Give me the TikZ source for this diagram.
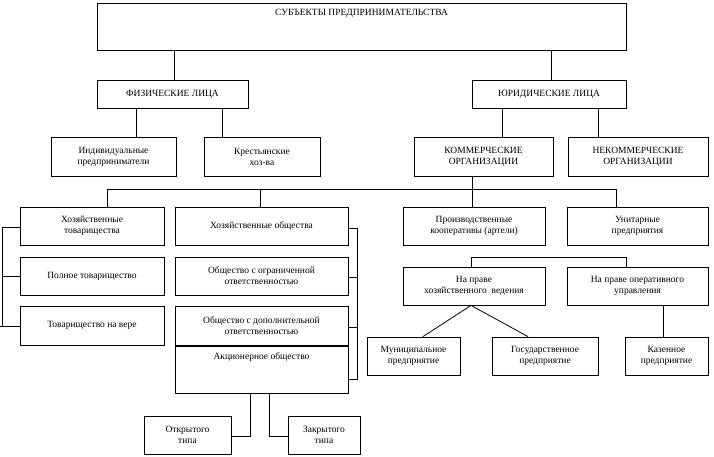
\documentclass[tikz,border=0pt]{standalone}
\usepackage{fontspec}
\setmainfont{Liberation Serif}
\begin{document}
\begin{tikzpicture}[x=1pt,y=-1pt,
  bx/.style={draw, line width=0.8pt, inner sep=1pt, align=center, font=\fontsize{9.5}{11}\selectfont},
  ln/.style={line width=0.8pt}]
\useasboundingbox (0,0) rectangle (714,457);
\newcommand\bx[6]{\node[bx, minimum width={(#4-#2)*1pt}, minimum height={(#5-#3)*1pt}] (#1) at ({(#2+#4)/2},{(#3+#5)/2}) {#6};}
\newcommand\bxt[7]{\node[bx, minimum width={(#4-#2)*1pt}, minimum height={(#5-#3)*1pt}, label={[bx,draw=none,anchor=north,yshift=-#7pt]north:#6}] (#1) at ({(#2+#4)/2},{(#3+#5)/2}) {};}
\bxt{top}{97}{3}{626}{50}{СУБЪЕКТЫ ПРЕДПРИНИМАТЕЛЬСТВА}{5}
\bx{fiz}{97}{80}{248}{108}{ФИЗИЧЕСКИЕ ЛИЦА}
\bx{yur}{472}{80}{626}{108}{ЮРИДИЧЕСКИЕ ЛИЦА}
\bx{ind}{51}{137}{176}{176}{Индивидуальные\\предприниматели}
\bx{kr}{204}{137}{320}{176}{Крестьянские\\хоз-ва}
\bx{kom}{414}{137}{553}{176}{КОММЕРЧЕСКИЕ\\ОРГАНИЗАЦИИ}
\bx{nek}{568}{137}{708}{176}{НЕКОММЕРЧЕСКИЕ\\ОРГАНИЗАЦИИ}
\bx{ht}{20}{207}{164}{245}{Хозяйственные\\товарищества}
\bx{ho}{175}{207}{348}{245}{Хозяйственные общества}
\bx{pk}{403}{207}{545}{245}{Производственные\\кооперативы (артели)}
\bx{up}{567}{207}{708}{245}{Унитарные\\предприятия}
\bx{pt}{20}{257}{164}{295}{Полное товарищество}
\bx{tv}{20}{306}{164}{345}{Товарищество на вере}
\bx{ooo}{175}{257}{348}{295}{Общество с ограниченной\\ответственностью}
\bx{odo}{175}{306}{348}{345}{Общество с дополнительной\\ответственностью}
\bxt{ao}{175}{346}{348}{393}{Акционерное общество}{6}
\bx{ot}{144}{416}{231}{454}{Открытого\\типа}
\bx{zt}{288}{416}{360}{454}{Закрытого\\типа}
\bx{hv}{403}{267}{545}{305}{На праве\\хозяйственного\ \ ведения}
\bx{ou}{567}{267}{708}{305}{На праве оперативного\\управления}
\bx{mp}{367}{337}{460}{375}{Муниципальное\\предприятие}
\bx{gp}{492}{337}{598}{375}{Государственное\\предприятие}
\bx{kp}{625}{337}{708}{375}{Казенное\\предприятие}
% connectors
\draw[ln] (top.south -| 174,0) -- (fiz.north -| 174,0);
\draw[ln] (top.south -| 551,0) -- (yur.north -| 551,0);
\draw[ln] (fiz.south -| 136,0) -- (ind.north -| 136,0);
\draw[ln] (fiz.south -| 222,0) -- (kr.north -| 222,0);
\draw[ln] (yur.south -| 502,0) -- (kom.north -| 502,0);
\draw[ln] (yur.south -| 598,0) -- (nek.north -| 598,0);
\draw[ln] (kom.south -| 472,0) -- (472,189);
\draw[ln] (ht.north -| 107,0) |- (616,189) -- (up.north -| 616,0);
\draw[ln] (ho.north -| 260,0) -- (260,189);
\draw[ln] (pk.north -| 472,0) -- (472,189);
\draw[ln] (ht.west |- 0,227) -- (2,227) -- (2,326);
\draw[ln] (pt.west) -- (pt.west -| 2,0);
\draw[ln] (tv.west |- 0,326) -- (0,326);
\draw[ln] (ho.east |- 0,228) -- (357,228) -- (357,379) -- (ao.east |- 0,379);
\draw[ln] (ooo.east |- 0,277) -- (357,277);
\draw[ln] (odo.east |- 0,327) -- (357,327);
\draw[ln] (ao.south -| 250,0) |- (ot.east |- 0,436);
\draw[ln] (ao.south -| 269,0) |- (zt.west |- 0,436);
\draw[ln] (hv.north -| 471,0) |- (626,257) -- (ou.north -| 626,0);
\draw[ln] (hv.south -| 471,0) -- (mp.north -| 423,0);
\draw[ln] (hv.south -| 471,0) -- (gp.north -| 528,0);
\draw[ln] (ou.south -| 663,0) -- (kp.north -| 663,0);
\end{tikzpicture}
\end{document}
